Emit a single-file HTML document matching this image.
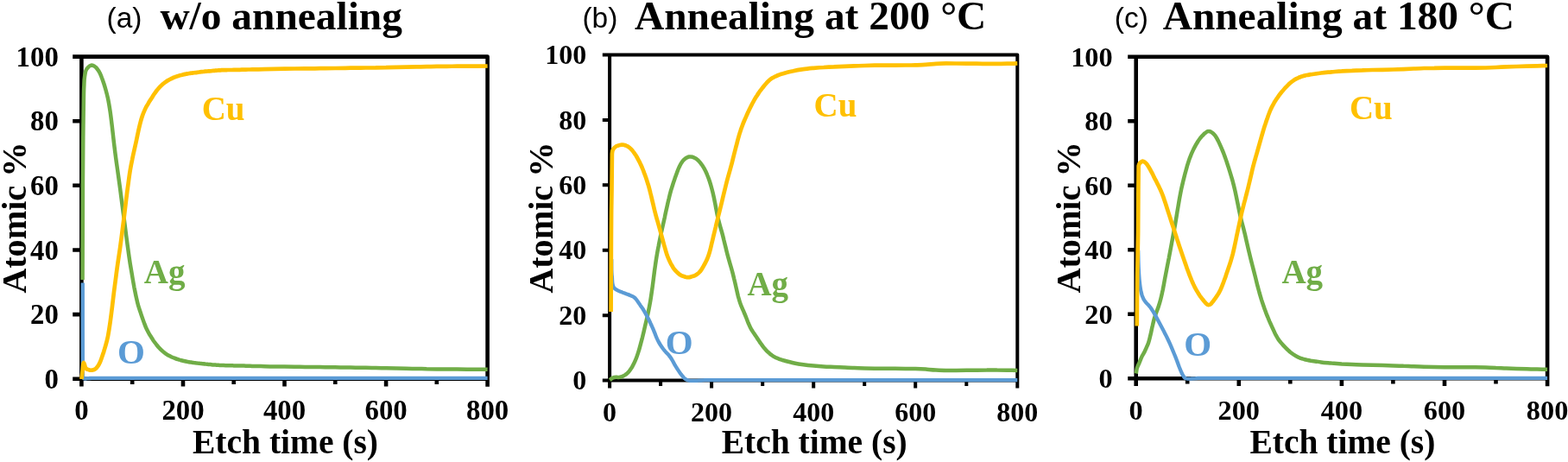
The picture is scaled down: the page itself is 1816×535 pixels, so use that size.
<!DOCTYPE html>
<html lang="en">
<head>
<meta charset="utf-8">
<title>XPS depth profiles</title>
<style>
html,body{margin:0;padding:0;background:#fff;}
body{width:1816px;height:535px;overflow:hidden;}
svg{display:block;}
text{font-family:"Liberation Serif",serif;font-weight:bold;}
.tk{font-size:33px;}
.al{font-size:39.5px;}
.yl{font-size:40.2px;}
.sl{font-size:39px;}
.tt{font-size:47.4px;}
.tg{font-family:"Liberation Sans",sans-serif;font-weight:normal;font-size:33.5px;}
</style>
</head>
<body>
<svg width="1816" height="535" viewBox="0 0 1816 535">
<rect width="1816" height="535" fill="#fff"/>
<g class="panel" id="pa">
<g class="ax" fill="none" stroke="#000" stroke-width="4.6" stroke-linejoin="round">
<path d="M84.2 65.6 H564.6 V447.7"/>
<path d="M94.4 65.6 V447.5 M84.2 438.7 H564.6"/>
<path d="M84.2 364.1 H94.4M84.2 289.5 H94.4M84.2 214.8 H94.4M84.2 140.2 H94.4M153.2 438.7 V445.0M212.0 438.7 V447.6M270.7 438.7 V445.0M329.5 438.7 V447.6M388.3 438.7 V445.0M447.1 438.7 V447.6M505.8 438.7 V445.0"/>
</g>
<g fill="none" stroke-linecap="butt" stroke-linejoin="round">
<path stroke="#70AD47" stroke-width="4.5" d="M95.6 324.0 C95.7 302.7 95.7 281.3 95.8 260.0 C95.9 226.7 95.9 193.3 96.3 160.0 C96.5 145.0 96.6 130.0 96.9 115.0 C97.0 110.0 97.0 105.0 97.3 100.0 C97.5 96.1 97.4 92.2 98.1 88.4 C98.6 85.6 98.6 82.3 100.3 80.0 C100.6 79.5 101.0 79.1 101.5 78.6 C102.2 77.8 102.9 76.9 103.8 76.4 C104.5 76.0 105.4 75.6 106.2 75.5 C106.9 75.5 107.8 75.9 108.5 76.2 C109.4 76.6 110.1 77.3 110.9 77.9 C111.7 78.7 112.5 79.6 113.2 80.6 C114.1 81.8 114.9 83.2 115.6 84.5 C116.5 86.3 117.2 88.1 117.9 90.0 C118.8 92.2 119.5 94.5 120.3 96.8 C121.1 99.3 121.9 101.9 122.6 104.5 C123.5 107.7 124.3 110.9 125.0 114.1 C125.9 118.4 126.6 122.7 127.3 127.1 C128.3 133.2 128.9 139.4 129.7 145.5 C130.5 152.3 131.2 159.1 132.0 165.8 C132.8 172.1 133.5 178.3 134.4 184.6 C135.1 190.0 136.0 195.5 136.7 201.0 C137.5 206.8 138.3 212.6 139.1 218.4 C139.9 224.3 140.6 230.3 141.4 236.3 C142.2 242.2 143.0 248.2 143.8 254.2 C144.6 260.2 145.3 266.2 146.1 272.2 C146.9 278.1 147.6 283.9 148.5 289.8 C149.2 295.1 150.0 300.5 150.8 305.8 C151.6 310.5 152.4 315.3 153.2 320.0 C153.9 324.3 154.7 328.7 155.5 333.1 C156.3 337.0 157.0 340.9 157.9 344.7 C158.6 347.9 159.3 351.0 160.2 354.1 C160.9 356.5 161.8 358.9 162.6 361.4 C163.3 363.7 164.1 366.0 164.9 368.2 C165.7 370.5 166.4 372.7 167.3 374.9 C168.0 376.8 168.8 378.8 169.6 380.6 C170.4 382.2 171.1 383.7 172.0 385.2 C172.7 386.5 173.5 387.8 174.3 389.1 C175.1 390.3 175.9 391.6 176.7 392.8 C177.4 394.0 178.2 395.2 179.0 396.3 C179.8 397.4 180.6 398.4 181.4 399.4 C182.1 400.4 182.9 401.3 183.7 402.2 C184.5 403.0 185.3 403.8 186.1 404.6 C186.9 405.4 187.6 406.1 188.4 406.8 C189.2 407.4 190.0 408.1 190.8 408.7 C191.6 409.3 192.3 409.8 193.1 410.3 C193.9 410.8 194.7 411.3 195.5 411.7 C196.3 412.1 197.0 412.5 197.8 412.9 C198.6 413.3 199.4 413.6 200.2 414.0 C201.0 414.3 201.8 414.6 202.6 414.9 C203.3 415.2 204.1 415.5 204.9 415.8 C205.7 416.0 206.5 416.3 207.2 416.5 C208.0 416.8 208.8 417.0 209.6 417.2 C210.4 417.4 211.2 417.6 211.9 417.8 C212.7 418.0 213.5 418.1 214.3 418.3 C215.1 418.5 215.9 418.6 216.7 418.8 C217.4 418.9 218.2 419.1 219.0 419.2 C219.8 419.3 220.6 419.5 221.3 419.6 C222.1 419.7 222.9 419.8 223.7 419.9 C224.5 420.1 225.3 420.2 226.1 420.3 C226.8 420.4 227.6 420.5 228.4 420.6 C229.2 420.6 230.0 420.7 230.8 420.8 C231.5 420.9 232.3 421.0 233.1 421.1 C233.9 421.2 234.7 421.3 235.5 421.3 C236.2 421.4 237.0 421.5 237.8 421.6 C238.6 421.6 239.4 421.7 240.2 421.8 C240.9 421.9 241.7 421.9 242.5 422.0 C243.3 422.1 244.1 422.1 244.9 422.2 C245.6 422.3 246.4 422.4 247.2 422.4 C248.0 422.5 248.8 422.5 249.6 422.6 C250.4 422.7 251.1 422.7 251.9 422.8 C252.7 422.8 253.5 422.9 254.3 422.9 C255.1 423.0 255.8 423.0 256.6 423.1 C257.4 423.1 258.2 423.1 259.0 423.1 C259.8 423.2 260.5 423.2 261.3 423.2 C262.1 423.2 262.9 423.2 263.7 423.2 C264.5 423.3 265.2 423.3 266.0 423.3 C266.8 423.3 267.6 423.3 268.4 423.3 C269.2 423.3 269.9 423.4 270.7 423.4 C271.5 423.4 272.3 423.4 273.1 423.4 C273.9 423.4 274.6 423.5 275.4 423.5 C276.2 423.5 277.0 423.5 277.8 423.5 C278.6 423.5 279.3 423.6 280.1 423.6 C280.9 423.6 281.7 423.6 282.5 423.6 C283.3 423.7 284.0 423.7 284.8 423.7 C285.6 423.7 286.4 423.7 287.2 423.8 C288.0 423.8 288.7 423.8 289.5 423.8 C290.3 423.8 291.1 423.8 291.9 423.9 C292.7 423.9 293.5 423.9 294.2 423.9 C298.2 424.1 302.1 424.1 306.0 424.2 C309.9 424.3 313.8 424.4 317.7 424.4 C321.7 424.5 325.6 424.5 329.5 424.6 C333.4 424.6 337.3 424.7 341.3 424.7 C345.2 424.8 349.1 424.8 353.0 424.9 C356.9 424.9 360.8 425.0 364.8 425.0 C368.7 425.1 372.6 425.1 376.5 425.2 C380.4 425.2 384.4 425.3 388.3 425.3 C392.2 425.4 396.1 425.4 400.0 425.5 C403.9 425.6 407.9 425.6 411.8 425.7 C415.7 425.7 419.6 425.8 423.5 425.8 C427.5 425.9 431.4 426.0 435.3 426.0 C439.2 426.1 443.1 426.2 447.1 426.2 C451.0 426.3 454.9 426.4 458.8 426.5 C462.7 426.6 466.6 426.6 470.6 426.7 C474.5 426.8 478.4 426.9 482.3 426.9 C486.2 427.0 490.2 427.1 494.1 427.2 C498.0 427.2 501.9 427.3 505.8 427.4 C509.7 427.4 513.7 427.5 517.6 427.5 C521.5 427.5 525.4 427.6 529.3 427.6 C533.3 427.6 537.2 427.6 541.1 427.7 C545.0 427.7 548.9 427.7 552.8 427.7 C556.8 427.7 560.7 427.7 564.6 427.8"/>
<path stroke="#5B9BD5" stroke-width="4.3" d="M95.8 327.4 C95.8 344.9 95.8 362.5 95.8 380.0 C95.8 398.9 95.9 417.7 95.9 436.6 C96.3 437.2 96.7 437.9 97.2 438.3 C98.2 439.0 100.0 438.1 101.5 438.1 C102.2 438.1 103.0 438.0 103.8 438.0 C104.6 438.0 105.4 438.0 106.2 437.9 C106.9 437.9 107.7 437.9 108.5 437.9 C109.3 437.9 110.1 437.9 110.9 437.9 C111.6 437.9 112.4 437.9 113.2 437.9 C114.0 437.9 114.8 437.9 115.6 437.9 C116.3 437.9 117.1 437.9 117.9 437.9 C118.7 437.9 119.5 437.9 120.3 437.9 C121.0 437.9 121.8 437.9 122.6 437.9 C123.4 437.9 124.2 437.9 125.0 437.9 C125.7 437.9 126.5 437.9 127.3 437.9 C128.1 437.9 128.9 437.9 129.7 437.9 C130.5 437.9 131.2 437.9 132.0 437.9 C132.8 437.9 133.6 437.9 134.4 437.9 C135.2 437.9 135.9 437.9 136.7 437.9 C137.5 437.9 138.3 437.9 139.1 437.9 C139.9 437.9 140.6 437.9 141.4 437.9 C142.2 437.9 143.0 437.9 143.8 437.9 C144.6 437.9 145.3 437.9 146.1 437.9 C146.9 437.9 147.7 437.9 148.5 437.9 C149.3 437.9 150.0 437.9 150.8 437.9 C151.6 437.9 152.4 437.9 153.2 437.9 C154.0 437.9 154.7 437.9 155.5 437.9 C156.3 437.9 157.1 437.9 157.9 437.9 C158.7 437.9 159.4 437.9 160.2 437.9 C161.0 437.9 161.8 437.9 162.6 437.9 C163.4 437.9 164.1 437.9 164.9 437.9 C165.7 437.9 166.5 437.9 167.3 437.9 C168.1 437.9 168.8 437.9 169.6 437.9 C170.4 437.9 171.2 437.9 172.0 437.9 C172.8 437.9 173.5 437.9 174.3 437.9 C175.1 437.9 175.9 437.9 176.7 437.9 C177.5 437.9 178.3 437.9 179.0 437.9 C179.8 437.9 180.6 437.9 181.4 437.9 C182.2 437.9 183.0 437.9 183.7 437.9 C184.5 437.9 185.3 437.9 186.1 437.9 C186.9 437.9 187.7 437.9 188.4 437.9 C189.2 437.9 190.0 437.9 190.8 437.9 C191.6 437.9 192.4 437.9 193.1 437.9 C193.9 437.9 194.7 437.9 195.5 437.9 C196.3 437.9 197.1 437.9 197.8 437.9 C198.6 437.9 199.4 437.9 200.2 437.9 C201.0 437.9 201.8 437.9 202.6 437.9 C203.3 437.9 204.1 437.9 204.9 437.9 C205.7 437.9 206.5 437.9 207.2 437.9 C208.0 437.9 208.8 437.9 209.6 437.9 C210.4 437.9 211.2 437.9 211.9 437.9 C212.7 437.9 213.5 437.9 214.3 437.9 C215.1 437.9 215.9 437.9 216.7 437.9 C217.4 437.9 218.2 437.9 219.0 437.9 C219.8 437.9 220.6 437.9 221.3 437.9 C222.1 437.9 222.9 437.9 223.7 437.9 C224.5 437.9 225.3 437.9 226.1 437.9 C226.8 437.9 227.6 437.9 228.4 437.9 C229.2 437.9 230.0 437.9 230.8 437.9 C231.5 437.9 232.3 437.9 233.1 437.9 C233.9 437.9 234.7 437.9 235.5 437.9 C236.2 437.9 237.0 437.9 237.8 437.9 C238.6 437.9 239.4 437.9 240.2 437.9 C240.9 437.9 241.7 437.9 242.5 437.9 C243.3 437.9 244.1 437.9 244.9 437.9 C245.6 437.9 246.4 437.9 247.2 437.9 C248.0 437.9 248.8 437.9 249.6 437.9 C250.4 437.9 251.1 437.9 251.9 437.9 C252.7 437.9 253.5 437.9 254.3 437.9 C255.1 437.9 255.8 437.9 256.6 437.9 C257.4 437.9 258.2 437.9 259.0 437.9 C259.8 437.9 260.5 437.9 261.3 437.9 C262.1 437.9 262.9 437.9 263.7 437.9 C264.5 437.9 265.2 437.9 266.0 437.9 C266.8 437.9 267.6 437.9 268.4 437.9 C269.2 437.9 269.9 437.9 270.7 437.9 C271.5 437.9 272.3 437.9 273.1 437.9 C273.9 437.9 274.6 437.9 275.4 437.9 C276.2 437.9 277.0 437.9 277.8 437.9 C278.6 437.9 279.3 437.9 280.1 437.9 C280.9 437.9 281.7 437.9 282.5 437.9 C283.3 437.9 284.0 437.9 284.8 437.9 C285.6 437.9 286.4 437.9 287.2 437.9 C288.0 437.9 288.7 437.9 289.5 437.9 C290.3 437.9 291.1 437.9 291.9 437.9 C292.7 437.9 293.5 437.9 294.2 437.9 C298.2 437.9 302.1 437.9 306.0 437.9 C309.9 437.9 313.8 437.9 317.7 437.9 C321.7 437.9 325.6 437.9 329.5 437.9 C333.4 437.9 337.3 437.9 341.3 437.9 C345.2 437.9 349.1 437.9 353.0 437.9 C356.9 437.9 360.8 437.9 364.8 437.9 C368.7 437.9 372.6 437.9 376.5 437.9 C380.4 437.9 384.4 437.9 388.3 437.9 C392.2 437.9 396.1 437.9 400.0 437.9 C403.9 437.9 407.9 437.9 411.8 437.9 C415.7 437.9 419.6 437.9 423.5 437.9 C427.5 437.9 431.4 437.9 435.3 437.9 C439.2 437.9 443.1 437.9 447.1 437.9 C451.0 437.9 454.9 437.9 458.8 437.9 C462.7 437.9 466.6 437.9 470.6 437.9 C474.5 437.9 478.4 437.9 482.3 437.9 C486.2 437.9 490.2 437.9 494.1 437.9 C498.0 437.9 501.9 437.9 505.8 437.9 C509.7 437.9 513.7 437.9 517.6 437.9 C521.5 437.9 525.4 437.9 529.3 437.9 C533.3 437.9 537.2 437.9 541.1 437.9 C545.0 437.9 548.9 437.9 552.8 437.9 C556.8 437.9 560.7 437.9 564.6 437.9"/>
<path stroke="#FFC000" stroke-width="4.7" d="M94.4 439.0 C94.8 436.0 95.1 433.0 95.5 430.0 C96.0 426.7 96.1 419.7 97.1 420.0 C97.9 420.2 98.0 426.1 100.3 427.3 C100.7 427.5 101.1 427.6 101.5 427.8 C102.2 428.1 103.0 428.5 103.8 428.6 C104.6 428.8 105.4 428.8 106.2 428.7 C107.0 428.6 107.8 428.5 108.5 428.2 C109.3 427.9 110.2 427.4 110.9 426.9 C111.8 426.2 112.5 425.2 113.2 424.2 C114.2 423.0 114.9 421.5 115.6 420.0 C116.5 418.1 117.2 416.0 117.9 414.0 C118.8 411.7 119.5 409.3 120.3 406.9 C121.1 404.3 121.9 401.8 122.6 399.2 C123.5 396.0 124.3 392.7 125.0 389.4 C125.9 384.8 126.6 380.0 127.3 375.3 C128.2 369.3 128.9 363.3 129.7 357.2 C130.5 350.8 131.2 344.4 132.0 338.0 C132.8 331.9 133.6 325.8 134.4 319.7 C135.1 314.1 135.9 308.5 136.7 302.9 C137.5 297.5 138.3 292.2 139.1 286.8 C139.9 281.0 140.7 275.1 141.4 269.3 C142.2 263.0 143.0 256.8 143.8 250.6 C144.6 244.1 145.3 237.6 146.1 231.2 C146.9 225.2 147.6 219.1 148.5 213.1 C149.2 207.7 149.9 202.3 150.8 196.9 C151.5 192.7 152.3 188.5 153.2 184.4 C153.9 180.8 154.7 177.3 155.5 173.8 C156.3 170.2 157.1 166.6 157.9 163.1 C158.7 159.3 159.4 155.6 160.2 151.9 C161.0 148.5 161.7 145.1 162.6 141.8 C163.3 139.2 164.0 136.6 164.9 134.1 C165.6 132.1 166.4 130.1 167.3 128.1 C168.0 126.5 168.8 124.9 169.6 123.3 C170.4 122.0 171.2 120.7 172.0 119.3 C172.7 118.1 173.5 116.9 174.3 115.6 C175.1 114.4 175.9 113.2 176.7 111.9 C177.5 110.7 178.2 109.5 179.0 108.3 C179.8 107.2 180.6 106.1 181.4 105.0 C182.1 104.0 182.9 103.1 183.7 102.2 C184.5 101.3 185.3 100.5 186.1 99.7 C186.9 99.0 187.6 98.3 188.4 97.6 C189.2 96.9 190.0 96.3 190.8 95.7 C191.6 95.1 192.3 94.6 193.1 94.0 C193.9 93.5 194.7 93.0 195.5 92.6 C196.3 92.1 197.0 91.7 197.8 91.3 C198.6 90.9 199.4 90.5 200.2 90.2 C201.0 89.8 201.8 89.5 202.6 89.2 C203.3 88.9 204.1 88.7 204.9 88.4 C205.7 88.2 206.5 87.9 207.2 87.7 C208.0 87.5 208.8 87.2 209.6 87.0 C210.4 86.8 211.2 86.6 211.9 86.4 C212.7 86.2 213.5 86.1 214.3 85.9 C215.1 85.7 215.9 85.6 216.7 85.4 C217.4 85.3 218.2 85.2 219.0 85.0 C219.8 84.9 220.6 84.8 221.3 84.7 C222.1 84.6 222.9 84.5 223.7 84.4 C224.5 84.3 225.3 84.2 226.1 84.1 C226.8 84.0 227.6 83.9 228.4 83.8 C229.2 83.7 230.0 83.6 230.8 83.5 C231.5 83.4 232.3 83.3 233.1 83.2 C233.9 83.2 234.7 83.1 235.5 83.0 C236.2 82.9 237.0 82.8 237.8 82.7 C238.6 82.7 239.4 82.6 240.2 82.5 C240.9 82.4 241.7 82.4 242.5 82.3 C243.3 82.2 244.1 82.1 244.9 82.1 C245.6 82.0 246.4 82.0 247.2 81.9 C248.0 81.8 248.8 81.8 249.6 81.7 C250.4 81.6 251.1 81.6 251.9 81.5 C252.7 81.5 253.5 81.4 254.3 81.4 C255.1 81.3 255.8 81.3 256.6 81.2 C257.4 81.2 258.2 81.2 259.0 81.1 C259.8 81.1 260.5 81.1 261.3 81.1 C262.1 81.1 262.9 81.0 263.7 81.0 C264.5 81.0 265.2 81.0 266.0 81.0 C266.8 81.0 267.6 81.0 268.4 81.0 C269.2 80.9 269.9 80.9 270.7 80.9 C271.5 80.9 272.3 80.9 273.1 80.9 C273.9 80.9 274.6 80.9 275.4 80.8 C276.2 80.8 277.0 80.8 277.8 80.8 C278.6 80.8 279.3 80.8 280.1 80.7 C280.9 80.7 281.7 80.7 282.5 80.7 C283.3 80.6 284.0 80.6 284.8 80.6 C285.6 80.6 286.4 80.6 287.2 80.5 C288.0 80.5 288.7 80.5 289.5 80.5 C290.3 80.4 291.1 80.4 291.9 80.4 C292.7 80.4 293.5 80.4 294.2 80.3 C298.2 80.3 302.1 80.2 306.0 80.1 C309.9 80.0 313.8 79.9 317.7 79.9 C321.7 79.8 325.6 79.8 329.5 79.7 C333.4 79.6 337.3 79.6 341.3 79.5 C345.2 79.5 349.1 79.5 353.0 79.4 C356.9 79.4 360.8 79.3 364.8 79.3 C368.7 79.2 372.6 79.2 376.5 79.1 C380.4 79.0 384.4 79.0 388.3 79.0 C392.2 78.9 396.1 78.8 400.0 78.8 C403.9 78.7 407.9 78.7 411.8 78.6 C415.7 78.6 419.6 78.5 423.5 78.5 C427.5 78.4 431.4 78.3 435.3 78.3 C439.2 78.2 443.1 78.1 447.1 78.1 C451.0 78.0 454.9 77.9 458.8 77.8 C462.7 77.7 466.6 77.7 470.6 77.6 C474.5 77.5 478.4 77.4 482.3 77.3 C486.2 77.3 490.2 77.2 494.1 77.1 C498.0 77.1 501.9 77.0 505.8 76.9 C509.7 76.9 513.7 76.8 517.6 76.8 C521.5 76.8 525.4 76.7 529.3 76.7 C533.3 76.7 537.2 76.7 541.1 76.6 C545.0 76.6 548.9 76.6 552.8 76.6 C556.8 76.6 560.7 76.6 564.6 76.5"/>
</g>
<g class="tk" style="font-size:32.8px">
<text x="67.8" y="449.8" text-anchor="end">0</text>
<text x="67.8" y="375.2" text-anchor="end">20</text>
<text x="67.8" y="300.6" text-anchor="end">40</text>
<text x="67.8" y="226.0" text-anchor="end">60</text>
<text x="67.8" y="151.3" text-anchor="end">80</text>
<text x="67.8" y="76.7" text-anchor="end">100</text>
<text x="94.4" y="486.1" text-anchor="middle">0</text>
<text x="212.0" y="486.1" text-anchor="middle">200</text>
<text x="329.5" y="486.1" text-anchor="middle">400</text>
<text x="447.1" y="486.1" text-anchor="middle">600</text>
<text x="564.6" y="486.1" text-anchor="middle">800</text>
</g>
<text class="al" x="330.5" y="524.5" text-anchor="middle">Etch time (s)</text>
<text class="yl" transform="translate(29.5 252.2) rotate(-90)" text-anchor="middle">Atomic %</text>
<text class="sl" x="233.7" y="138.5" fill="#FFC000">Cu</text>
<text class="sl" x="166.8" y="328.3" fill="#70AD47">Ag</text>
<text class="sl" x="135.9" y="420.7" fill="#5B9BD5" style="font-size:41px">O</text>
<text class="tg" x="123.5" y="31.9">(a)</text>
<text class="tt" x="185.4" y="34.3">w/o annealing</text>
</g>
<g class="panel" id="pb">
<g class="ax" fill="none" stroke="#000" stroke-width="4.0" stroke-linejoin="round">
<path d="M697.8 63.5 H1178.3 V449.6"/>
<path d="M706.1 63.5 V449.4 M697.8 440.6 H1178.3"/>
<path d="M697.8 365.2 H706.1M697.8 289.8 H706.1M697.8 214.3 H706.1M697.8 138.9 H706.1M765.1 440.6 V446.9M824.1 440.6 V449.5M883.2 440.6 V446.9M942.2 440.6 V449.5M1001.2 440.6 V446.9M1060.2 440.6 V449.5M1119.3 440.6 V446.9"/>
</g>
<g fill="none" stroke-linecap="butt" stroke-linejoin="round">
<path stroke="#70AD47" stroke-width="4.5" d="M706.3 440.2 C707.5 439.2 708.6 437.8 710.0 437.3 C711.0 436.9 712.1 436.8 713.2 436.8 C714.0 436.8 714.8 436.9 715.5 436.9 C716.3 436.9 717.1 436.8 717.9 436.7 C718.7 436.5 719.5 436.4 720.3 436.1 C721.1 435.8 721.9 435.5 722.6 435.0 C723.5 434.6 724.2 434.0 725.0 433.5 C725.8 432.8 726.6 432.1 727.4 431.3 C728.2 430.5 729.0 429.5 729.7 428.5 C730.6 427.4 731.3 426.1 732.1 424.9 C732.9 423.4 733.7 421.9 734.4 420.4 C735.3 418.6 736.1 416.8 736.8 415.0 C737.7 412.8 738.4 410.6 739.1 408.4 C740.0 405.7 740.8 402.9 741.5 400.1 C742.3 397.1 743.1 394.1 743.9 391.1 C744.7 387.8 745.5 384.6 746.2 381.4 C747.0 378.0 747.8 374.7 748.6 371.3 C749.4 367.7 750.2 364.1 751.0 360.5 C751.8 356.4 752.6 352.3 753.3 348.1 C754.2 342.8 754.9 337.4 755.7 332.0 C756.5 326.0 757.2 319.9 758.0 313.9 C758.8 308.5 759.5 303.0 760.4 297.6 C761.1 293.2 761.9 288.8 762.8 284.5 C763.5 280.6 764.3 276.7 765.1 272.9 C765.9 269.2 766.7 265.6 767.5 262.0 C768.3 258.5 769.1 254.9 769.9 251.4 C770.6 247.8 771.4 244.3 772.2 240.7 C773.0 237.2 773.7 233.7 774.6 230.2 C775.3 227.2 776.1 224.1 776.9 221.1 C777.7 218.5 778.5 216.0 779.3 213.5 C780.0 211.2 780.9 208.9 781.6 206.6 C782.4 204.4 783.2 202.1 784.0 199.9 C784.8 197.9 785.5 195.9 786.4 193.9 C787.1 192.4 787.8 190.8 788.7 189.3 C789.5 188.2 790.2 187.0 791.1 186.0 C791.8 185.2 792.6 184.5 793.5 183.8 C794.2 183.3 795.0 182.7 795.8 182.4 C796.6 182.0 797.4 181.7 798.2 181.6 C798.9 181.5 799.8 181.4 800.5 181.6 C801.3 181.7 802.1 181.9 802.9 182.2 C803.7 182.5 804.5 182.8 805.3 183.3 C806.1 183.7 806.9 184.3 807.6 184.9 C808.5 185.5 809.2 186.3 810.0 187.2 C810.8 188.1 811.6 189.1 812.3 190.1 C813.2 191.2 814.0 192.4 814.7 193.6 C815.6 195.0 816.3 196.5 817.1 198.0 C817.9 199.7 818.7 201.5 819.4 203.3 C820.3 205.4 821.1 207.6 821.8 209.8 C822.6 212.3 823.4 214.9 824.1 217.5 C825.0 220.7 825.8 224.0 826.5 227.3 C827.4 231.2 828.1 235.2 828.9 239.2 C829.7 243.1 830.3 247.0 831.2 250.9 C832.0 254.1 832.7 257.2 833.6 260.4 C834.3 263.1 835.2 265.9 836.0 268.6 C836.8 271.7 837.6 274.7 838.3 277.8 C839.1 281.0 839.9 284.2 840.7 287.4 C841.4 290.5 842.2 293.6 843.0 296.6 C843.8 299.5 844.6 302.3 845.4 305.1 C846.2 307.8 847.0 310.6 847.8 313.3 C848.6 316.4 849.4 319.4 850.1 322.5 C851.0 325.9 851.7 329.3 852.5 332.7 C853.3 336.0 854.0 339.4 854.8 342.8 C855.6 345.5 856.3 348.2 857.2 350.9 C857.9 352.9 858.7 354.9 859.6 356.9 C860.3 358.6 861.2 360.4 861.9 362.2 C862.8 364.1 863.5 366.1 864.3 368.0 C865.1 370.0 865.8 372.0 866.6 374.0 C867.4 375.7 868.1 377.5 869.0 379.2 C869.7 380.6 870.5 382.0 871.4 383.3 C872.1 384.5 872.9 385.6 873.7 386.8 C874.5 388.0 875.3 389.2 876.1 390.3 C876.9 391.5 877.6 392.7 878.5 393.9 C879.2 395.1 880.0 396.2 880.8 397.4 C881.6 398.4 882.4 399.5 883.2 400.6 C883.9 401.6 884.7 402.6 885.5 403.5 C886.3 404.4 887.1 405.3 887.9 406.2 C888.7 406.9 889.4 407.7 890.3 408.4 C891.0 409.1 891.8 409.7 892.6 410.4 C893.4 411.0 894.2 411.5 895.0 412.1 C895.7 412.6 896.5 413.1 897.3 413.5 C898.1 413.9 898.9 414.3 899.7 414.6 C900.5 415.0 901.3 415.3 902.1 415.6 C902.8 415.9 903.6 416.2 904.4 416.4 C905.2 416.7 906.0 417.0 906.8 417.2 C910.6 418.4 914.6 419.3 918.6 420.2 C922.5 421.0 926.4 421.7 930.4 422.2 C934.3 422.8 938.3 423.2 942.2 423.5 C946.1 423.9 950.1 424.2 954.0 424.4 C957.9 424.7 961.9 424.8 965.8 425.0 C969.7 425.2 973.7 425.4 977.6 425.5 C981.6 425.7 985.5 425.9 989.4 426.0 C993.4 426.2 997.3 426.3 1001.2 426.4 C1005.2 426.5 1009.1 426.6 1013.0 426.7 C1017.0 426.8 1020.9 426.8 1024.8 426.8 C1028.8 426.8 1032.7 426.8 1036.6 426.8 C1040.6 426.8 1044.5 426.8 1048.4 426.9 C1052.4 426.9 1056.3 426.9 1060.2 427.0 C1064.2 427.2 1068.1 427.4 1072.1 427.6 C1076.0 427.9 1079.9 428.3 1083.9 428.5 C1087.8 428.7 1091.7 428.9 1095.7 428.9 C1099.6 429.0 1103.5 428.9 1107.5 428.9 C1111.4 428.9 1115.3 428.8 1119.3 428.8 C1123.2 428.8 1127.1 428.7 1131.1 428.7 C1135.0 428.6 1138.9 428.5 1142.9 428.5 C1146.8 428.4 1150.8 428.4 1154.7 428.5 C1158.6 428.5 1162.6 428.6 1166.5 428.7 C1170.4 428.8 1174.4 428.9 1178.3 429.0"/>
<path stroke="#5B9BD5" stroke-width="4.3" d="M708.2 300.0 C708.4 306.7 707.9 313.4 708.8 320.0 C709.4 324.7 708.3 330.7 711.7 333.9 C712.2 334.3 712.7 334.7 713.2 335.1 C713.9 335.6 714.7 336.0 715.5 336.4 C716.3 336.8 717.1 337.0 717.9 337.4 C718.7 337.7 719.5 338.0 720.3 338.3 C721.1 338.7 721.8 339.0 722.6 339.3 C723.4 339.6 724.2 339.9 725.0 340.2 C725.8 340.5 726.6 340.8 727.4 341.1 C728.1 341.4 728.9 341.7 729.7 342.0 C730.5 342.3 731.3 342.6 732.1 342.9 C732.9 343.3 733.7 343.8 734.4 344.3 C735.3 345.0 736.1 345.9 736.8 346.7 C737.7 347.7 738.4 348.8 739.1 349.9 C740.0 351.0 740.7 352.2 741.5 353.4 C742.3 354.5 743.1 355.6 743.9 356.7 C744.7 358.0 745.5 359.2 746.2 360.5 C747.1 361.9 747.8 363.4 748.6 364.8 C749.4 366.3 750.2 367.8 751.0 369.3 C751.8 370.9 752.6 372.6 753.3 374.2 C754.1 375.9 754.9 377.6 755.7 379.3 C756.5 381.2 757.3 383.0 758.0 384.9 C758.9 386.9 759.5 389.0 760.4 391.0 C761.1 392.7 761.9 394.3 762.8 395.9 C763.5 397.2 764.3 398.5 765.1 399.8 C765.9 401.0 766.7 402.1 767.5 403.2 C768.2 404.2 769.0 405.2 769.9 406.2 C770.6 407.1 771.4 407.9 772.2 408.8 C773.0 409.6 773.8 410.5 774.6 411.3 C775.4 412.3 776.2 413.3 776.9 414.4 C777.8 415.6 778.5 417.0 779.3 418.3 C780.1 419.8 780.8 421.2 781.6 422.7 C782.4 424.0 783.2 425.2 784.0 426.5 C784.8 427.7 785.6 428.9 786.4 430.1 C787.1 431.2 787.9 432.3 788.7 433.4 C789.5 434.4 790.3 435.4 791.1 436.3 C791.8 437.2 792.6 438.1 793.5 438.7 C794.2 439.2 795.0 439.6 795.8 439.9 C796.6 440.2 797.4 440.4 798.2 440.6 C799.0 440.7 799.8 440.8 800.5 440.8 C801.3 440.9 802.1 440.9 802.9 440.9 C803.7 440.9 804.5 440.9 805.3 440.9 C806.0 440.8 806.8 440.8 807.6 440.8 C808.4 440.7 809.2 440.7 810.0 440.6 C810.8 440.6 811.6 440.6 812.3 440.5 C813.1 440.4 813.9 440.4 814.7 440.3 C815.5 440.2 816.3 440.2 817.1 440.1 C817.9 440.1 818.6 440.1 819.4 440.1 C820.2 440.1 821.0 440.1 821.8 440.1 C822.6 440.1 823.4 440.1 824.1 440.1 C824.9 440.1 825.7 440.1 826.5 440.1 C827.3 440.1 828.1 440.1 828.9 440.1 C829.7 440.1 830.4 440.1 831.2 440.1 C832.0 440.1 832.8 440.1 833.6 440.1 C834.4 440.1 835.2 440.1 836.0 440.1 C836.7 440.1 837.5 440.1 838.3 440.1 C839.1 440.1 839.9 440.1 840.7 440.1 C841.5 440.1 842.3 440.1 843.0 440.1 C843.8 440.1 844.6 440.1 845.4 440.1 C846.2 440.1 847.0 440.1 847.8 440.1 C848.5 440.1 849.3 440.1 850.1 440.1 C850.9 440.1 851.7 440.1 852.5 440.1 C853.3 440.1 854.1 440.1 854.8 440.1 C855.6 440.1 856.4 440.1 857.2 440.1 C858.0 440.1 858.8 440.1 859.6 440.1 C860.3 440.1 861.1 440.1 861.9 440.1 C862.7 440.1 863.5 440.1 864.3 440.1 C865.1 440.1 865.9 440.1 866.6 440.1 C867.4 440.1 868.2 440.1 869.0 440.1 C869.8 440.1 870.6 440.1 871.4 440.1 C872.2 440.1 872.9 440.1 873.7 440.1 C874.5 440.1 875.3 440.1 876.1 440.1 C876.9 440.1 877.7 440.1 878.5 440.1 C879.2 440.1 880.0 440.1 880.8 440.1 C881.6 440.1 882.4 440.1 883.2 440.1 C884.0 440.1 884.8 440.1 885.5 440.1 C886.3 440.1 887.1 440.1 887.9 440.1 C888.7 440.1 889.5 440.1 890.3 440.1 C891.0 440.1 891.8 440.1 892.6 440.1 C893.4 440.1 894.2 440.1 895.0 440.1 C895.8 440.1 896.6 440.1 897.3 440.1 C898.1 440.1 898.9 440.1 899.7 440.1 C900.5 440.1 901.3 440.1 902.1 440.1 C902.8 440.1 903.6 440.1 904.4 440.1 C905.2 440.1 906.0 440.1 906.8 440.1 C910.7 440.1 914.7 440.1 918.6 440.1 C922.5 440.1 926.5 440.1 930.4 440.1 C934.3 440.1 938.3 440.1 942.2 440.1 C946.1 440.1 950.1 440.1 954.0 440.1 C957.9 440.1 961.9 440.1 965.8 440.1 C969.7 440.1 973.7 440.1 977.6 440.1 C981.6 440.1 985.5 440.1 989.4 440.1 C993.4 440.1 997.3 440.1 1001.2 440.1 C1005.2 440.1 1009.1 440.1 1013.0 440.1 C1017.0 440.1 1020.9 440.1 1024.8 440.1 C1028.8 440.1 1032.7 440.1 1036.6 440.1 C1040.6 440.1 1044.5 440.1 1048.4 440.1 C1052.4 440.1 1056.3 440.1 1060.2 440.1 C1064.2 440.1 1068.1 440.1 1072.1 440.1 C1076.0 440.1 1079.9 440.1 1083.9 440.1 C1087.8 440.1 1091.7 440.1 1095.7 440.1 C1099.6 440.1 1103.5 440.1 1107.5 440.1 C1111.4 440.1 1115.3 440.1 1119.3 440.1 C1123.2 440.1 1127.1 440.1 1131.1 440.1 C1135.0 440.1 1138.9 440.1 1142.9 440.1 C1146.8 440.1 1150.8 440.1 1154.7 440.1 C1158.6 440.1 1162.6 440.1 1166.5 440.1 C1170.4 440.1 1174.4 440.1 1178.3 440.1"/>
<path stroke="#FFC000" stroke-width="4.7" d="M707.6 361.0 C707.7 340.7 707.7 320.3 707.8 300.0 C707.9 281.7 707.9 263.3 708.1 245.0 C708.2 236.7 708.4 228.3 708.5 220.0 C708.7 206.0 708.8 192.0 708.9 178.0 C709.1 176.7 709.1 175.2 709.6 174.0 C710.3 172.3 711.6 170.6 713.2 169.7 C713.9 169.2 714.7 169.0 715.5 168.7 C716.3 168.4 717.1 168.2 717.9 168.0 C718.7 167.9 719.5 167.7 720.3 167.6 C721.1 167.6 721.9 167.6 722.6 167.8 C723.4 167.9 724.2 168.2 725.0 168.6 C725.8 168.9 726.6 169.3 727.4 169.8 C728.2 170.3 729.0 170.9 729.7 171.5 C730.6 172.2 731.3 173.1 732.1 173.9 C732.9 174.9 733.7 175.9 734.4 177.0 C735.3 178.1 736.0 179.3 736.8 180.5 C737.6 181.9 738.4 183.3 739.1 184.7 C740.0 186.2 740.8 187.7 741.5 189.3 C742.4 191.0 743.1 192.8 743.9 194.6 C744.7 196.5 745.5 198.6 746.2 200.6 C747.1 202.8 747.8 205.0 748.6 207.3 C749.4 209.7 750.2 212.2 751.0 214.7 C751.8 217.6 752.6 220.6 753.3 223.5 C754.2 226.8 754.9 230.1 755.7 233.4 C756.5 236.7 757.2 240.0 758.0 243.3 C758.8 246.4 759.6 249.3 760.4 252.3 C761.2 255.1 762.0 257.8 762.8 260.6 C763.6 263.3 764.3 266.1 765.1 268.9 C765.9 271.8 766.7 274.7 767.5 277.6 C768.3 280.6 769.0 283.5 769.9 286.4 C770.6 289.0 771.3 291.6 772.2 294.2 C772.9 296.3 773.7 298.4 774.6 300.4 C775.3 302.1 776.1 303.7 776.9 305.3 C777.7 306.7 778.4 308.1 779.3 309.4 C780.0 310.5 780.8 311.6 781.6 312.6 C782.4 313.5 783.2 314.4 784.0 315.2 C784.8 316.0 785.5 316.7 786.4 317.3 C787.1 317.8 787.9 318.3 788.7 318.8 C789.5 319.2 790.3 319.5 791.1 319.8 C791.9 320.1 792.7 320.4 793.5 320.6 C794.2 320.9 795.0 321.1 795.8 321.1 C796.6 321.2 797.4 321.2 798.2 321.1 C799.0 321.0 799.8 320.8 800.5 320.5 C801.3 320.3 802.1 320.1 802.9 319.8 C803.7 319.5 804.5 319.2 805.3 318.8 C806.1 318.3 806.9 317.8 807.6 317.3 C808.5 316.7 809.3 316.0 810.0 315.2 C810.9 314.3 811.6 313.3 812.3 312.3 C813.2 311.0 814.0 309.7 814.7 308.4 C815.5 306.9 816.3 305.4 817.1 304.0 C817.9 302.3 818.7 300.7 819.4 299.0 C820.4 296.7 821.1 294.4 821.8 292.0 C822.7 289.0 823.4 285.8 824.1 282.7 C825.0 279.4 825.7 276.0 826.5 272.6 C827.3 269.3 828.1 266.1 828.9 262.8 C829.6 259.6 830.4 256.5 831.2 253.3 C832.0 250.1 832.8 246.9 833.6 243.7 C834.4 240.4 835.2 237.2 836.0 234.0 C836.8 230.7 837.5 227.4 838.3 224.2 C839.1 220.9 839.9 217.7 840.7 214.5 C841.4 211.5 842.2 208.5 843.0 205.6 C843.8 202.7 844.6 199.9 845.4 197.1 C846.2 194.2 847.0 191.3 847.8 188.3 C848.6 185.2 849.3 182.1 850.1 179.0 C850.9 175.9 851.7 172.8 852.5 169.7 C853.3 166.8 854.0 163.8 854.8 160.9 C855.6 158.2 856.3 155.4 857.2 152.8 C857.9 150.4 858.7 148.1 859.6 145.8 C860.3 143.9 861.1 141.9 861.9 140.0 C862.7 138.2 863.5 136.4 864.3 134.6 C865.1 132.9 865.8 131.1 866.6 129.4 C867.4 127.7 868.2 126.1 869.0 124.5 C869.8 122.9 870.6 121.4 871.4 119.8 C872.1 118.4 872.9 117.0 873.7 115.5 C874.5 114.2 875.3 112.9 876.1 111.6 C876.9 110.4 877.6 109.2 878.5 108.0 C879.2 106.9 880.0 105.8 880.8 104.7 C881.6 103.7 882.4 102.7 883.2 101.6 C884.0 100.7 884.7 99.7 885.5 98.7 C886.3 97.8 887.1 96.9 887.9 96.0 C888.7 95.2 889.4 94.3 890.3 93.6 C891.0 92.9 891.8 92.2 892.6 91.6 C893.4 91.1 894.2 90.6 895.0 90.1 C895.7 89.7 896.5 89.2 897.3 88.8 C898.1 88.5 898.9 88.1 899.7 87.8 C900.5 87.4 901.3 87.1 902.1 86.8 C902.8 86.5 903.6 86.2 904.4 85.9 C905.2 85.7 906.0 85.4 906.8 85.2 C910.7 84.0 914.6 83.0 918.6 82.2 C922.5 81.3 926.4 80.7 930.4 80.1 C934.3 79.6 938.3 79.2 942.2 78.8 C946.1 78.5 950.1 78.2 954.0 78.0 C957.9 77.7 961.9 77.5 965.8 77.4 C969.7 77.2 973.7 77.0 977.6 76.8 C981.6 76.7 985.5 76.5 989.4 76.4 C993.4 76.2 997.3 76.1 1001.2 76.0 C1005.2 75.9 1009.1 75.8 1013.0 75.7 C1017.0 75.6 1020.9 75.6 1024.8 75.6 C1028.8 75.6 1032.7 75.6 1036.6 75.6 C1040.6 75.6 1044.5 75.6 1048.4 75.5 C1052.4 75.5 1056.3 75.5 1060.2 75.3 C1064.2 75.2 1068.1 75.0 1072.1 74.8 C1076.0 74.5 1079.9 74.1 1083.9 73.8 C1087.8 73.6 1091.7 73.5 1095.7 73.4 C1099.6 73.4 1103.5 73.5 1107.5 73.5 C1111.4 73.5 1115.3 73.5 1119.3 73.6 C1123.2 73.6 1127.1 73.6 1131.1 73.7 C1135.0 73.8 1138.9 73.9 1142.9 73.9 C1146.8 73.9 1150.8 73.9 1154.7 73.9 C1158.6 73.9 1162.6 73.8 1166.5 73.7 C1170.4 73.6 1174.4 73.5 1178.3 73.3"/>
</g>
<g class="tk" style="font-size:32.0px">
<text x="679.2" y="451.1" text-anchor="end">0</text>
<text x="679.2" y="375.7" text-anchor="end">20</text>
<text x="679.2" y="300.3" text-anchor="end">40</text>
<text x="679.2" y="224.9" text-anchor="end">60</text>
<text x="679.2" y="149.5" text-anchor="end">80</text>
<text x="679.2" y="74.0" text-anchor="end">100</text>
<text x="706.1" y="488.0" text-anchor="middle">0</text>
<text x="824.1" y="488.0" text-anchor="middle">200</text>
<text x="942.2" y="488.0" text-anchor="middle">400</text>
<text x="1060.2" y="488.0" text-anchor="middle">600</text>
<text x="1178.3" y="488.0" text-anchor="middle">800</text>
</g>
<text class="al" x="943.2" y="524.5" text-anchor="middle">Etch time (s)</text>
<text class="yl" transform="translate(640.4 252.2) rotate(-90)" text-anchor="middle">Atomic %</text>
<text class="sl" x="942.6" y="135.1" fill="#FFC000">Cu</text>
<text class="sl" x="865.4" y="341.7" fill="#70AD47">Ag</text>
<text class="sl" x="770.8" y="409.7" fill="#5B9BD5" style="font-size:41px">O</text>
<text class="tg" x="674.4" y="31.5">(b)</text>
<text class="tt" x="735.0" y="34.3">Annealing at 200 °C</text>
</g>
<g class="panel" id="pc">
<g class="ax" fill="none" stroke="#000" stroke-width="4.6" stroke-linejoin="round">
<path d="M1306.2 65.7 H1792.1 V447.2"/>
<path d="M1315.7 65.7 V447.0 M1306.2 438.2 H1792.1"/>
<path d="M1306.2 363.7 H1315.7M1306.2 289.2 H1315.7M1306.2 214.7 H1315.7M1306.2 140.2 H1315.7M1375.2 438.2 V444.5M1434.8 438.2 V447.1M1494.3 438.2 V444.5M1553.9 438.2 V447.1M1613.4 438.2 V444.5M1673.0 438.2 V447.1M1732.5 438.2 V444.5"/>
</g>
<g fill="none" stroke-linecap="butt" stroke-linejoin="round">
<path stroke="#70AD47" stroke-width="4.5" d="M1315.8 432.5 C1316.2 430.3 1316.3 428.0 1317.0 425.9 C1317.6 424.0 1318.6 422.2 1319.4 420.3 C1320.6 417.6 1321.5 414.8 1322.8 412.2 C1323.6 410.8 1324.5 409.5 1325.2 408.1 C1326.1 406.4 1326.8 404.6 1327.6 402.8 C1328.4 401.0 1329.3 399.1 1330.0 397.2 C1331.0 394.3 1331.6 391.2 1332.4 388.2 C1333.3 384.6 1333.9 380.9 1334.8 377.3 C1335.5 374.2 1336.2 371.0 1337.1 368.0 C1337.9 365.6 1338.7 363.4 1339.5 361.1 C1340.3 358.9 1341.2 356.7 1341.9 354.5 C1342.8 351.8 1343.6 349.1 1344.3 346.3 C1345.2 342.8 1345.9 339.2 1346.7 335.7 C1347.5 331.6 1348.3 327.4 1349.0 323.3 C1349.8 319.2 1350.6 315.0 1351.4 310.9 C1352.2 306.8 1353.0 302.7 1353.8 298.6 C1354.6 294.4 1355.4 290.2 1356.2 285.9 C1357.0 281.6 1357.8 277.3 1358.6 273.0 C1359.4 268.7 1360.2 264.4 1361.0 260.0 C1361.8 255.4 1362.6 250.7 1363.3 246.1 C1364.1 241.4 1364.9 236.6 1365.7 231.9 C1366.5 227.7 1367.2 223.5 1368.1 219.3 C1368.8 215.8 1369.7 212.4 1370.5 209.0 C1371.3 205.9 1372.0 202.8 1372.9 199.7 C1373.6 196.9 1374.4 194.1 1375.2 191.2 C1376.0 188.8 1376.8 186.3 1377.6 183.9 C1378.4 181.9 1379.2 179.8 1380.0 177.8 C1380.8 176.0 1381.6 174.3 1382.4 172.6 C1383.2 171.1 1384.0 169.6 1384.8 168.1 C1385.5 166.8 1386.3 165.4 1387.2 164.1 C1387.9 162.9 1388.7 161.8 1389.5 160.7 C1390.3 159.7 1391.1 158.7 1391.9 157.8 C1392.7 156.9 1393.5 156.1 1394.3 155.3 C1395.1 154.6 1395.8 153.9 1396.7 153.3 C1397.4 152.8 1398.2 152.2 1399.1 152.1 C1399.8 151.9 1400.7 152.0 1401.5 152.2 C1402.3 152.4 1403.1 153.0 1403.8 153.6 C1404.7 154.2 1405.5 155.0 1406.2 155.8 C1407.1 156.8 1407.9 157.9 1408.6 159.0 C1409.5 160.4 1410.2 161.9 1411.0 163.4 C1411.8 165.1 1412.6 166.8 1413.4 168.6 C1414.2 170.3 1415.0 172.1 1415.7 174.0 C1416.6 176.0 1417.4 178.0 1418.1 180.1 C1419.0 182.3 1419.7 184.6 1420.5 186.8 C1421.3 189.2 1422.1 191.7 1422.9 194.1 C1423.7 196.6 1424.5 199.2 1425.3 201.8 C1426.1 204.5 1426.9 207.2 1427.7 210.0 C1428.5 213.1 1429.3 216.1 1430.0 219.2 C1430.9 222.9 1431.6 226.7 1432.4 230.4 C1433.2 234.4 1434.0 238.4 1434.8 242.4 C1435.6 246.0 1436.3 249.6 1437.2 253.1 C1437.9 256.2 1438.8 259.2 1439.6 262.3 C1440.4 265.5 1441.2 268.7 1442.0 271.9 C1442.8 275.3 1443.5 278.7 1444.3 282.1 C1445.1 285.5 1445.9 288.9 1446.7 292.3 C1447.5 295.6 1448.3 298.8 1449.1 302.1 C1449.9 305.2 1450.7 308.3 1451.5 311.4 C1452.3 314.6 1453.1 317.7 1453.9 320.8 C1454.7 323.9 1455.4 327.0 1456.2 330.1 C1457.0 333.1 1457.8 336.1 1458.6 339.0 C1459.4 341.7 1460.2 344.4 1461.0 347.1 C1461.8 349.5 1462.6 351.9 1463.4 354.3 C1464.1 356.5 1464.9 358.7 1465.8 360.9 C1466.5 362.9 1467.3 364.9 1468.2 367.0 C1468.9 368.8 1469.7 370.7 1470.5 372.6 C1471.3 374.4 1472.1 376.1 1472.9 377.9 C1473.7 379.6 1474.5 381.4 1475.3 383.1 C1476.1 384.8 1476.8 386.5 1477.7 388.1 C1478.4 389.5 1479.2 390.9 1480.1 392.2 C1480.8 393.3 1481.6 394.4 1482.4 395.5 C1483.2 396.4 1484.0 397.4 1484.8 398.3 C1485.6 399.2 1486.4 400.0 1487.2 400.9 C1488.0 401.7 1488.8 402.5 1489.6 403.3 C1490.4 404.1 1491.2 404.9 1492.0 405.6 C1492.7 406.3 1493.5 407.0 1494.3 407.7 C1495.1 408.3 1495.9 408.9 1496.7 409.5 C1497.5 410.1 1498.3 410.6 1499.1 411.1 C1499.9 411.6 1500.7 412.1 1501.5 412.6 C1502.3 413.0 1503.1 413.5 1503.9 413.8 C1504.7 414.2 1505.5 414.5 1506.3 414.8 C1507.0 415.1 1507.8 415.3 1508.6 415.5 C1509.4 415.8 1510.2 416.0 1511.0 416.2 C1511.8 416.4 1512.6 416.6 1513.4 416.8 C1514.2 416.9 1515.0 417.1 1515.8 417.2 C1516.6 417.4 1517.4 417.5 1518.2 417.7 C1522.1 418.4 1526.1 418.9 1530.1 419.4 C1534.0 419.9 1538.0 420.2 1542.0 420.6 C1546.0 420.9 1549.9 421.2 1553.9 421.5 C1557.9 421.7 1561.8 421.9 1565.8 422.1 C1569.8 422.3 1573.7 422.4 1577.7 422.5 C1581.7 422.6 1585.7 422.7 1589.6 422.8 C1593.6 422.9 1597.6 423.0 1601.5 423.1 C1605.5 423.2 1609.5 423.3 1613.5 423.4 C1617.4 423.5 1621.4 423.6 1625.4 423.8 C1629.3 423.9 1633.3 424.2 1637.3 424.3 C1641.2 424.5 1645.2 424.7 1649.2 424.8 C1653.1 424.9 1657.1 425.0 1661.1 425.1 C1665.1 425.2 1669.0 425.2 1673.0 425.2 C1677.0 425.2 1680.9 425.2 1684.9 425.2 C1688.9 425.2 1692.9 425.2 1696.8 425.2 C1700.8 425.2 1704.8 425.2 1708.7 425.2 C1712.7 425.2 1716.7 425.3 1720.6 425.4 C1724.6 425.5 1728.6 425.7 1732.5 425.9 C1736.5 426.0 1740.5 426.3 1744.5 426.4 C1748.4 426.6 1752.4 426.7 1756.4 426.9 C1760.3 427.0 1764.3 427.1 1768.3 427.2 C1772.2 427.4 1776.2 427.5 1780.2 427.6 C1784.2 427.7 1788.1 427.7 1792.1 427.8"/>
<path stroke="#5B9BD5" stroke-width="4.3" d="M1318.1 290.0 C1318.3 296.7 1318.4 303.3 1318.7 310.0 C1319.0 315.0 1319.2 320.0 1319.7 325.0 C1320.1 329.0 1320.5 333.1 1321.4 337.1 C1321.8 338.9 1322.2 340.8 1322.8 342.5 C1323.5 344.3 1324.2 346.1 1325.2 347.6 C1325.9 348.7 1326.7 349.8 1327.6 350.8 C1328.4 351.6 1329.2 352.3 1330.0 353.1 C1330.8 354.0 1331.6 355.0 1332.4 356.0 C1333.2 357.1 1334.0 358.3 1334.8 359.6 C1335.6 360.8 1336.4 362.1 1337.1 363.5 C1338.0 364.8 1338.7 366.3 1339.5 367.7 C1340.3 369.2 1341.1 370.7 1341.9 372.2 C1342.7 373.7 1343.5 375.2 1344.3 376.7 C1345.1 378.2 1345.9 379.7 1346.7 381.2 C1347.5 382.7 1348.3 384.2 1349.0 385.8 C1349.9 387.3 1350.7 388.9 1351.4 390.5 C1352.2 392.1 1353.0 393.8 1353.8 395.5 C1354.6 397.3 1355.4 399.1 1356.2 400.9 C1357.0 402.8 1357.8 404.7 1358.6 406.6 C1359.4 408.5 1360.2 410.5 1361.0 412.4 C1361.8 414.4 1362.6 416.4 1363.3 418.4 C1364.2 420.6 1364.9 422.7 1365.7 424.8 C1366.5 426.7 1367.2 428.7 1368.1 430.6 C1368.8 432.2 1369.4 434.0 1370.5 435.4 C1371.2 436.4 1371.9 437.5 1372.9 438.0 C1373.6 438.4 1374.4 438.5 1375.2 438.6 C1376.0 438.7 1376.8 438.6 1377.6 438.6 C1378.4 438.6 1379.2 438.5 1380.0 438.5 C1380.8 438.5 1381.6 438.4 1382.4 438.4 C1383.2 438.3 1384.0 438.2 1384.8 438.2 C1385.6 438.1 1386.4 438.0 1387.2 437.9 C1388.0 437.9 1388.7 437.8 1389.5 437.8 C1390.3 437.8 1391.1 437.8 1391.9 437.8 C1392.7 437.8 1393.5 437.8 1394.3 437.8 C1395.1 437.8 1395.9 437.8 1396.7 437.8 C1397.5 437.8 1398.3 437.8 1399.1 437.8 C1399.9 437.8 1400.7 437.8 1401.5 437.8 C1402.2 437.8 1403.0 437.8 1403.8 437.8 C1404.6 437.8 1405.4 437.8 1406.2 437.8 C1407.0 437.8 1407.8 437.8 1408.6 437.8 C1409.4 437.8 1410.2 437.8 1411.0 437.8 C1411.8 437.8 1412.6 437.8 1413.4 437.8 C1414.2 437.8 1414.9 437.8 1415.7 437.8 C1416.5 437.8 1417.3 437.8 1418.1 437.8 C1418.9 437.8 1419.7 437.8 1420.5 437.8 C1421.3 437.8 1422.1 437.8 1422.9 437.8 C1423.7 437.8 1424.5 437.8 1425.3 437.8 C1426.1 437.8 1426.9 437.8 1427.7 437.8 C1428.4 437.8 1429.2 437.8 1430.0 437.8 C1430.8 437.8 1431.6 437.8 1432.4 437.8 C1433.2 437.8 1434.0 437.8 1434.8 437.8 C1435.6 437.8 1436.4 437.8 1437.2 437.8 C1438.0 437.8 1438.8 437.8 1439.6 437.8 C1440.4 437.8 1441.2 437.8 1442.0 437.8 C1442.7 437.8 1443.5 437.8 1444.3 437.8 C1445.1 437.8 1445.9 437.8 1446.7 437.8 C1447.5 437.8 1448.3 437.8 1449.1 437.8 C1449.9 437.8 1450.7 437.8 1451.5 437.8 C1452.3 437.8 1453.1 437.8 1453.9 437.8 C1454.7 437.8 1455.4 437.8 1456.2 437.8 C1457.0 437.8 1457.8 437.8 1458.6 437.8 C1459.4 437.8 1460.2 437.8 1461.0 437.8 C1461.8 437.8 1462.6 437.8 1463.4 437.8 C1464.2 437.8 1465.0 437.8 1465.8 437.8 C1466.6 437.8 1467.4 437.8 1468.2 437.8 C1468.9 437.8 1469.7 437.8 1470.5 437.8 C1471.3 437.8 1472.1 437.8 1472.9 437.8 C1473.7 437.8 1474.5 437.8 1475.3 437.8 C1476.1 437.8 1476.9 437.8 1477.7 437.8 C1478.5 437.8 1479.3 437.8 1480.1 437.8 C1480.9 437.8 1481.6 437.8 1482.4 437.8 C1483.2 437.8 1484.0 437.8 1484.8 437.8 C1485.6 437.8 1486.4 437.8 1487.2 437.8 C1488.0 437.8 1488.8 437.8 1489.6 437.8 C1490.4 437.8 1491.2 437.8 1492.0 437.8 C1492.8 437.8 1493.6 437.8 1494.3 437.8 C1495.1 437.8 1495.9 437.8 1496.7 437.8 C1497.5 437.8 1498.3 437.8 1499.1 437.8 C1499.9 437.8 1500.7 437.8 1501.5 437.8 C1502.3 437.8 1503.1 437.8 1503.9 437.8 C1504.7 437.8 1505.5 437.8 1506.3 437.8 C1507.1 437.8 1507.8 437.8 1508.6 437.8 C1509.4 437.8 1510.2 437.8 1511.0 437.8 C1511.8 437.8 1512.6 437.8 1513.4 437.8 C1514.2 437.8 1515.0 437.8 1515.8 437.8 C1516.6 437.8 1517.4 437.8 1518.2 437.8 C1522.1 437.8 1526.1 437.8 1530.1 437.8 C1534.0 437.8 1538.0 437.8 1542.0 437.8 C1546.0 437.8 1549.9 437.8 1553.9 437.8 C1557.9 437.8 1561.8 437.8 1565.8 437.8 C1569.8 437.8 1573.8 437.8 1577.7 437.8 C1581.7 437.8 1585.7 437.8 1589.6 437.8 C1593.6 437.8 1597.6 437.8 1601.5 437.8 C1605.5 437.8 1609.5 437.8 1613.5 437.8 C1617.4 437.8 1621.4 437.8 1625.4 437.8 C1629.3 437.8 1633.3 437.8 1637.3 437.8 C1641.2 437.8 1645.2 437.8 1649.2 437.8 C1653.2 437.8 1657.1 437.8 1661.1 437.8 C1665.1 437.8 1669.0 437.8 1673.0 437.8 C1677.0 437.8 1680.9 437.8 1684.9 437.8 C1688.9 437.8 1692.8 437.8 1696.8 437.8 C1700.8 437.8 1704.8 437.8 1708.7 437.8 C1712.7 437.8 1716.7 437.8 1720.6 437.8 C1724.6 437.8 1728.6 437.8 1732.5 437.8 C1736.5 437.8 1740.5 437.8 1744.5 437.8 C1748.4 437.8 1752.4 437.8 1756.4 437.8 C1760.3 437.8 1764.3 437.8 1768.3 437.8 C1772.2 437.8 1776.2 437.8 1780.2 437.8 C1784.2 437.8 1788.1 437.8 1792.1 437.8"/>
<path stroke="#FFC000" stroke-width="4.7" d="M1316.8 377.5 C1316.9 358.3 1317.0 339.2 1317.2 320.0 C1317.4 303.3 1317.9 286.7 1318.1 270.0 C1318.3 253.3 1318.2 236.7 1318.4 220.0 C1318.5 210.7 1318.6 201.3 1318.7 192.0 C1319.0 191.2 1319.2 190.3 1319.6 189.6 C1320.1 188.8 1320.8 188.2 1321.5 187.6 C1321.9 187.3 1322.4 186.8 1322.8 186.7 C1323.6 186.5 1324.5 187.1 1325.2 187.4 C1326.1 187.9 1326.9 188.7 1327.6 189.4 C1328.6 190.4 1329.2 191.7 1330.0 192.8 C1330.8 194.1 1331.6 195.5 1332.4 196.8 C1333.2 198.3 1334.0 199.9 1334.8 201.4 C1335.6 202.9 1336.3 204.5 1337.1 206.1 C1337.9 207.6 1338.7 209.2 1339.5 210.7 C1340.3 212.3 1341.1 213.8 1341.9 215.4 C1342.7 217.1 1343.5 218.8 1344.3 220.5 C1345.1 222.5 1345.9 224.4 1346.7 226.4 C1347.5 228.6 1348.3 230.9 1349.0 233.1 C1349.9 235.5 1350.6 238.0 1351.4 240.4 C1352.2 242.9 1353.0 245.4 1353.8 247.9 C1354.6 250.3 1355.4 252.8 1356.2 255.2 C1357.0 257.7 1357.8 260.1 1358.6 262.6 C1359.4 265.0 1360.2 267.4 1361.0 269.9 C1361.8 272.3 1362.5 274.8 1363.3 277.2 C1364.1 279.6 1364.9 282.1 1365.7 284.5 C1366.5 286.9 1367.3 289.3 1368.1 291.6 C1368.9 294.0 1369.7 296.3 1370.5 298.6 C1371.3 300.9 1372.1 303.1 1372.9 305.4 C1373.7 307.6 1374.4 309.8 1375.2 312.0 C1376.0 314.1 1376.8 316.3 1377.6 318.4 C1378.4 320.4 1379.2 322.4 1380.0 324.4 C1380.8 326.2 1381.6 328.1 1382.4 329.8 C1383.2 331.4 1383.9 333.0 1384.8 334.5 C1385.5 335.9 1386.3 337.2 1387.2 338.6 C1387.9 339.8 1388.7 341.1 1389.5 342.3 C1390.3 343.4 1391.1 344.4 1391.9 345.5 C1392.7 346.5 1393.5 347.5 1394.3 348.5 C1395.1 349.4 1395.8 350.5 1396.7 351.3 C1397.4 351.9 1398.2 352.8 1399.1 353.0 C1399.8 353.1 1400.7 352.9 1401.5 352.6 C1402.4 352.2 1403.1 351.1 1403.8 350.3 C1404.7 349.3 1405.4 348.3 1406.2 347.2 C1407.0 346.2 1407.8 345.1 1408.6 343.9 C1409.4 342.8 1410.2 341.5 1411.0 340.3 C1411.8 338.8 1412.6 337.3 1413.4 335.8 C1414.2 334.0 1415.0 332.1 1415.7 330.3 C1416.6 328.2 1417.4 326.1 1418.1 323.9 C1419.0 321.7 1419.7 319.4 1420.5 317.1 C1421.3 314.8 1422.1 312.5 1422.9 310.1 C1423.7 307.7 1424.5 305.2 1425.3 302.8 C1426.1 300.0 1426.9 297.2 1427.7 294.4 C1428.5 291.0 1429.3 287.6 1430.0 284.2 C1430.9 280.4 1431.6 276.6 1432.4 272.8 C1433.2 269.0 1434.0 265.2 1434.8 261.4 C1435.6 257.8 1436.4 254.1 1437.2 250.5 C1437.9 247.1 1438.7 243.7 1439.6 240.4 C1440.3 237.3 1441.1 234.2 1442.0 231.1 C1442.7 228.1 1443.6 225.1 1444.3 222.1 C1445.2 218.9 1445.9 215.7 1446.7 212.5 C1447.5 209.1 1448.3 205.6 1449.1 202.2 C1449.9 198.8 1450.6 195.5 1451.5 192.2 C1452.2 189.3 1453.0 186.4 1453.9 183.5 C1454.6 180.8 1455.5 178.1 1456.2 175.4 C1457.0 172.6 1457.8 169.8 1458.6 166.9 C1459.4 164.1 1460.2 161.2 1461.0 158.3 C1461.8 155.6 1462.6 152.9 1463.4 150.2 C1464.1 147.7 1464.9 145.2 1465.8 142.7 C1466.5 140.4 1467.3 138.1 1468.2 135.8 C1468.9 133.6 1469.7 131.5 1470.5 129.5 C1471.3 127.7 1472.0 125.9 1472.9 124.1 C1473.7 122.6 1474.4 121.1 1475.3 119.7 C1476.0 118.4 1476.9 117.1 1477.7 115.8 C1478.5 114.6 1479.2 113.4 1480.1 112.3 C1480.8 111.2 1481.6 110.1 1482.4 109.0 C1483.2 108.0 1484.0 107.0 1484.8 106.0 C1485.6 105.1 1486.4 104.2 1487.2 103.3 C1488.0 102.4 1488.8 101.5 1489.6 100.7 C1490.4 99.9 1491.2 99.0 1492.0 98.3 C1492.7 97.5 1493.5 96.8 1494.3 96.1 C1495.1 95.5 1495.9 94.8 1496.7 94.2 C1497.5 93.7 1498.3 93.1 1499.1 92.6 C1499.9 92.1 1500.7 91.6 1501.5 91.2 C1502.3 90.7 1503.1 90.4 1503.9 90.0 C1504.7 89.7 1505.5 89.3 1506.3 89.0 C1507.0 88.7 1507.8 88.5 1508.6 88.2 C1509.4 88.0 1510.2 87.8 1511.0 87.6 C1511.8 87.4 1512.6 87.2 1513.4 87.0 C1514.2 86.9 1515.0 86.8 1515.8 86.6 C1516.6 86.5 1517.4 86.3 1518.2 86.2 C1522.1 85.5 1526.1 85.0 1530.1 84.5 C1534.0 84.0 1538.0 83.7 1542.0 83.3 C1546.0 83.0 1549.9 82.6 1553.9 82.4 C1557.9 82.1 1561.8 81.9 1565.8 81.8 C1569.8 81.6 1573.7 81.5 1577.7 81.4 C1581.7 81.2 1585.7 81.1 1589.6 81.0 C1593.6 80.9 1597.6 80.9 1601.5 80.8 C1605.5 80.7 1609.5 80.6 1613.5 80.5 C1617.4 80.4 1621.4 80.2 1625.4 80.1 C1629.3 79.9 1633.3 79.7 1637.3 79.5 C1641.2 79.4 1645.2 79.2 1649.2 79.0 C1653.1 78.9 1657.1 78.8 1661.1 78.8 C1665.1 78.7 1669.0 78.7 1673.0 78.7 C1677.0 78.7 1680.9 78.7 1684.9 78.7 C1688.9 78.7 1692.9 78.7 1696.8 78.7 C1700.8 78.7 1704.8 78.7 1708.7 78.7 C1712.7 78.6 1716.7 78.6 1720.6 78.5 C1724.6 78.3 1728.6 78.2 1732.5 78.0 C1736.5 77.8 1740.5 77.6 1744.5 77.4 C1748.4 77.3 1752.4 77.1 1756.4 77.0 C1760.3 76.9 1764.3 76.7 1768.3 76.6 C1772.2 76.5 1776.2 76.4 1780.2 76.3 C1784.2 76.2 1788.1 76.1 1792.1 76.0"/>
</g>
<g class="tk" style="font-size:32.3px">
<text x="1288.6" y="449.1" text-anchor="end">0</text>
<text x="1288.6" y="374.6" text-anchor="end">20</text>
<text x="1288.6" y="300.1" text-anchor="end">40</text>
<text x="1288.6" y="225.6" text-anchor="end">60</text>
<text x="1288.6" y="151.1" text-anchor="end">80</text>
<text x="1288.6" y="76.6" text-anchor="end">100</text>
<text x="1315.7" y="485.6" text-anchor="middle">0</text>
<text x="1434.8" y="485.6" text-anchor="middle">200</text>
<text x="1553.9" y="485.6" text-anchor="middle">400</text>
<text x="1673.0" y="485.6" text-anchor="middle">600</text>
<text x="1792.1" y="485.6" text-anchor="middle">800</text>
</g>
<text class="al" x="1554.9" y="524.5" text-anchor="middle">Etch time (s)</text>
<text class="yl" transform="translate(1250.8 252.0) rotate(-90)" text-anchor="middle">Atomic %</text>
<text class="sl" x="1562.9" y="137.8" fill="#FFC000">Cu</text>
<text class="sl" x="1484.4" y="328.3" fill="#70AD47">Ag</text>
<text class="sl" x="1371.2" y="411.8" fill="#5B9BD5" style="font-size:41px">O</text>
<text class="tg" x="1290.8" y="31.5">(c)</text>
<text class="tt" x="1346.7" y="34.3">Annealing at 180 °C</text>
</g>
</svg>
</body>
</html>
